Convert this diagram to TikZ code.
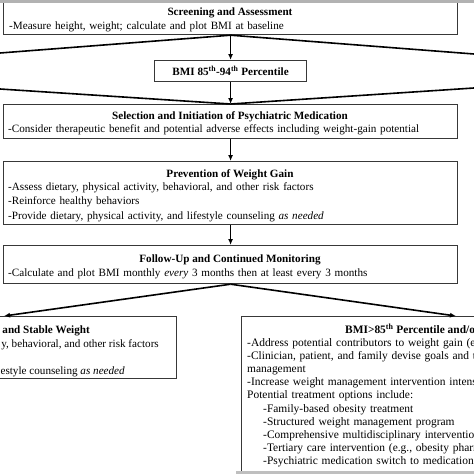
\documentclass[tikz,border=0pt]{standalone}
\usepackage{fontspec}
\setmainfont{Liberation Serif}
\usetikzlibrary{arrows,arrows.meta}
\begin{document}
\begin{tikzpicture}[x=1pt,y=-1pt]
                \tikzstyle{every node}=[inner sep=0pt, font=\fontsize{11.15}{13.1}\selectfont]
                \tikzstyle{box}=[draw=black!78, line width=1.2pt, rectangle, anchor=north west]
                \tikzstyle{head}=[anchor=base, font=\fontsize{11.15}{13.1}\selectfont\bfseries]
                \tikzstyle{txt}=[anchor=base west, text width=450pt, align=left]
                \tikzstyle{cut}=[anchor=base east]
                \tikzstyle{link}=[line width=1.6pt, black]
                \useasboundingbox (0,0) rectangle (474,474);
                \clip (0,0) rectangle (474,474);

                \node[box, minimum width=454pt, minimum height=34pt] (n1) at (3,0) {};
                \node[box, minimum width=152pt, minimum height=21pt, font=\fontsize{11.15}{13.1}\selectfont\bfseries] (n2) at (154,60) {BMI 85\textsuperscript{th}-94\textsuperscript{th} Percentile};
                \node[box, minimum width=454pt, minimum height=34pt] (n3) at (3,104) {};
                \node[box, minimum width=454pt, minimum height=63pt] (n4) at (3,161) {};
                \node[box, minimum width=454pt, minimum height=38pt] (n5) at (3,245) {};
                \node[box, minimum width=476pt, minimum height=61.5pt] (n6) at (-300,316) {};
                \node[box, minimum width=400pt, minimum height=154.5pt] (n7) at (241,316) {};
                \fill[black!30] (0,0) rectangle (474,2.5);
                \fill[black!25] (236,471) rectangle (474,474);

                \node[head] (t1) at (230,15.5) {Screening and Assessment};
                \node[txt] (t2) at (9,29) {-Measure height, weight; calculate and plot BMI at baseline};
                \node[head] (t3) at (230,119.5) {Selection and Initiation of Psychiatric Medication};
                \node[txt] (t4) at (8,132) {-Consider therapeutic benefit and potential adverse effects including weight-gain potential};
                \node[head] (t5) at (230,177.5) {Prevention of Weight Gain};
                \node[txt, font=\fontsize{11.15}{14.5}\selectfont] (t6) at (8,190) {-Assess dietary, physical activity, behavioral, and other risk factors\\
                        -Reinforce healthy behaviors\\
                        -Provide dietary, physical activity, and lifestyle counseling \textit{as needed}};
                \node[head] (t7) at (230,262) {Follow-Up and Continued Monitoring};
                \node[txt] (t8) at (8,276) {-Calculate and plot BMI monthly \textit{every} 3 months then at least every 3 months};
                \node[cut, font=\fontsize{11.15}{13.1}\selectfont\bfseries] (t9) at (90,333) {and Stable Weight};
                \node[cut] (t10) at (159,347) {y, behavioral, and other risk factors};
                \node[cut] (t11) at (125,374.5) {estyle counseling \textit{as needed}};
                \node[anchor=base west, font=\fontsize{11.4}{13.1}\selectfont\bfseries] (t12) at (345,333) {BMI>85\textsuperscript{th} Percentile and/or};
                \node[txt, text width=240pt, font=\fontsize{11.45}{13.1}\selectfont] (t13) at (247,346.5) {-Address potential contributors to weight gain (e.\\
                        -Clinician, patient, and family devise goals and tr\\
                        management\\
                        -Increase weight management intervention intens\\
                        Potential treatment options include:\\
                        \hspace*{16pt}-Family-based obesity treatment\\
                        \hspace*{16pt}-Structured weight management program\\
                        \hspace*{16pt}-Comprehensive multidisciplinary interventio\\
                        \hspace*{16pt}-Tertiary care intervention (e.g., obesity pharm\\
                        \hspace*{16pt}-Psychiatric medication switch to medication};

                \coordinate (c1) at (0,53);
                \coordinate (c2) at (474,54);
                \coordinate (c3) at (0,89);
                \coordinate (c4) at (474,88);
                \coordinate (c5) at (4,316);
                \coordinate (c6) at (456,316);
                \draw[link] (n1.south) -- (c1);
                \draw[link] (n1.south) -- (c2);
                \draw[link,-{Latex[length=6pt,width=5pt]}] (n1.south) -- (n2.north);
                \draw[link] (c3) -- (n3.north);
                \draw[link] (c4) -- (n3.north);
                \draw[link,-{Latex[length=6pt,width=5pt]}] (n2.south) -- (n3.north);
                \draw[link,-{Latex[length=6pt,width=5pt]}] (n3.south) -- (n4.north);
                \draw[link,-{Latex[length=6pt,width=5pt]}] (n4.south) -- (n5.north);
                \draw[link,-{Latex[length=6pt,width=5pt]}] (n5.south) -- (c5);
                \draw[link,-{Latex[length=6pt,width=5pt]}] (n5.south) -- (c6);
\end{tikzpicture}
\end{document}
